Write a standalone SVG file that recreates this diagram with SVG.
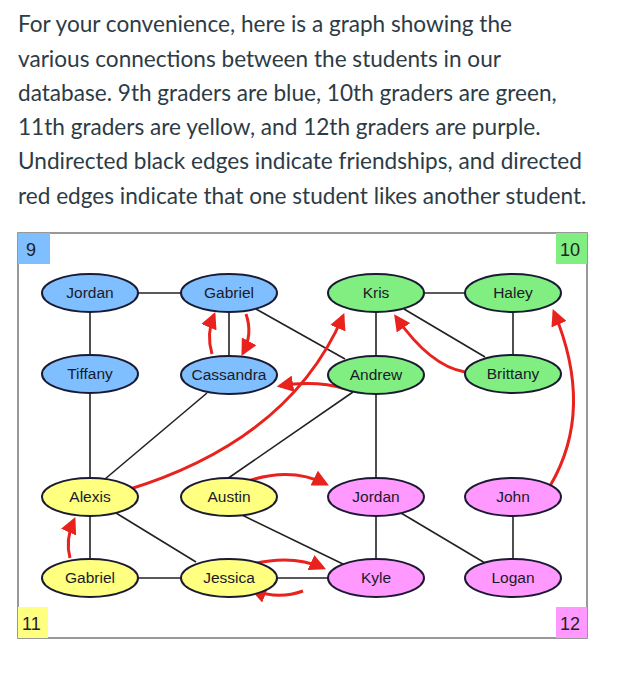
<svg xmlns="http://www.w3.org/2000/svg" width="621" height="700" viewBox="0 0 621 700">
<style>
.intro{font-family:Lato,"Liberation Sans",sans-serif;font-size:22.6px;fill:#2d3b45}
.n ellipse{stroke:#1a1a33;stroke-width:2}
.n text{font-family:"Liberation Sans",Arial,sans-serif;font-size:15.5px;text-anchor:middle;fill:#1a1a2a}
.b ellipse{fill:#80bfff}.g ellipse{fill:#80ee80}.y ellipse{fill:#ffff80}.p ellipse{fill:#ff99ff}
.e line{stroke:#222;stroke-width:1.6}
.r path{stroke:#e8221c;stroke-width:3;fill:none;marker-end:url(#ah)}
.corner{font-family:"Liberation Sans",Arial,sans-serif;font-size:18px;fill:#222}
</style>
<defs>
<marker id="ah" viewBox="0 0 10 10" refX="8" refY="5" markerWidth="5.5" markerHeight="5.5" orient="auto" markerUnits="strokeWidth">
<path d="M0,0 L10,5 L0,10 z" fill="#e8221c"/>
</marker>
</defs>
<rect width="621" height="700" fill="#fff"/>
<g class="intro">
<text x="18" y="32">For your convenience, here is a graph showing the</text>
<text x="18" y="67">various connections between the students in our</text>
<text x="18" y="101">database. 9th graders are blue, 10th graders are green,</text>
<text x="18" y="135">11th graders are yellow, and 12th graders are purple.</text>
<text x="18" y="169">Undirected black edges indicate friendships, and directed</text>
<text x="18" y="204">red edges indicate that one student likes another student.</text>
</g>
<rect x="18" y="233" width="569" height="405" fill="none" stroke="#777" stroke-width="1.5"/>
<rect x="18" y="233" width="32" height="31" fill="#80bfff"/><text class="corner" x="26" y="256">9</text>
<rect x="556" y="233" width="31" height="31" fill="#80ee80"/><text class="corner" x="560" y="256">10</text>
<rect x="18" y="607" width="30" height="31" fill="#ffff80"/><text class="corner" x="22" y="630">11</text>
<rect x="556" y="607" width="31" height="31" fill="#ff99ff"/><text class="corner" x="560" y="630">12</text>
<g class="e">
<line x1="90" y1="293" x2="229" y2="293"/>
<line x1="90" y1="293" x2="90" y2="374"/>
<line x1="229" y1="293" x2="229" y2="375"/>
<line x1="256" y1="309" x2="345" y2="359"/>
<line x1="376" y1="293" x2="513" y2="293"/>
<line x1="376" y1="293" x2="376" y2="375"/>
<line x1="404" y1="309" x2="485" y2="357"/>
<line x1="513" y1="293" x2="513" y2="374"/>
<line x1="90" y1="374" x2="90" y2="497"/>
<line x1="207" y1="393" x2="105" y2="479"/>
<line x1="353" y1="392" x2="227" y2="479"/>
<line x1="376" y1="375" x2="376" y2="497"/>
<line x1="90" y1="497" x2="90" y2="578"/>
<line x1="116" y1="513" x2="196" y2="562"/>
<line x1="240" y1="514" x2="345" y2="565"/>
<line x1="376" y1="497" x2="376" y2="578"/>
<line x1="401" y1="513" x2="485" y2="563"/>
<line x1="513" y1="497" x2="513" y2="578"/>
<line x1="90" y1="578" x2="229" y2="578"/>
<line x1="229" y1="578" x2="376" y2="578"/>
</g>
<g class="r">
<path d="M212,354 Q206,334 214,315"/>
<path d="M246,314 Q253,334 243,353"/>
<path d="M346,389 Q315,380 280,386"/>
<path d="M127,490 Q290,440 343,316"/>
<path d="M465,372 Q430,366 396,317"/>
<path d="M550,486 Q595,410 554,312"/>
<path d="M245,482 Q290,466 326,484"/>
<path d="M70,558 Q65,540 74,520"/>
<path d="M245,566 Q290,553 323,568"/>
<path d="M303,591 Q278,600 253,590"/>
</g>
<g id="n-jordan9" class="n b"><ellipse cx="90" cy="293" rx="48" ry="19"/><text x="90" y="298">Jordan</text></g>
<g id="n-gabriel9" class="n b"><ellipse cx="229" cy="293" rx="48" ry="19"/><text x="229" y="298">Gabriel</text></g>
<g id="n-kris" class="n g"><ellipse cx="376" cy="293" rx="48" ry="19"/><text x="376" y="298">Kris</text></g>
<g id="n-haley" class="n g"><ellipse cx="513" cy="293" rx="48" ry="19"/><text x="513" y="298">Haley</text></g>
<g id="n-tiffany" class="n b"><ellipse cx="90" cy="374" rx="48" ry="19"/><text x="90" y="379">Tiffany</text></g>
<g id="n-cassandra" class="n b"><ellipse cx="229" cy="375" rx="48" ry="19"/><text x="229" y="380">Cassandra</text></g>
<g id="n-andrew" class="n g"><ellipse cx="376" cy="375" rx="48" ry="19"/><text x="376" y="380">Andrew</text></g>
<g id="n-brittany" class="n g"><ellipse cx="513" cy="374" rx="48" ry="19"/><text x="513" y="379">Brittany</text></g>
<g id="n-alexis" class="n y"><ellipse cx="90" cy="497" rx="48" ry="19"/><text x="90" y="502">Alexis</text></g>
<g id="n-austin" class="n y"><ellipse cx="229" cy="497" rx="48" ry="19"/><text x="229" y="502">Austin</text></g>
<g id="n-jordan12" class="n p"><ellipse cx="376" cy="497" rx="48" ry="19"/><text x="376" y="502">Jordan</text></g>
<g id="n-john" class="n p"><ellipse cx="513" cy="497" rx="48" ry="19"/><text x="513" y="502">John</text></g>
<g id="n-gabriel11" class="n y"><ellipse cx="90" cy="578" rx="48" ry="19"/><text x="90" y="583">Gabriel</text></g>
<g id="n-jessica" class="n y"><ellipse cx="229" cy="578" rx="48" ry="19"/><text x="229" y="583">Jessica</text></g>
<g id="n-kyle" class="n p"><ellipse cx="376" cy="578" rx="48" ry="19"/><text x="376" y="583">Kyle</text></g>
<g id="n-logan" class="n p"><ellipse cx="513" cy="578" rx="48" ry="19"/><text x="513" y="583">Logan</text></g>
</svg>
